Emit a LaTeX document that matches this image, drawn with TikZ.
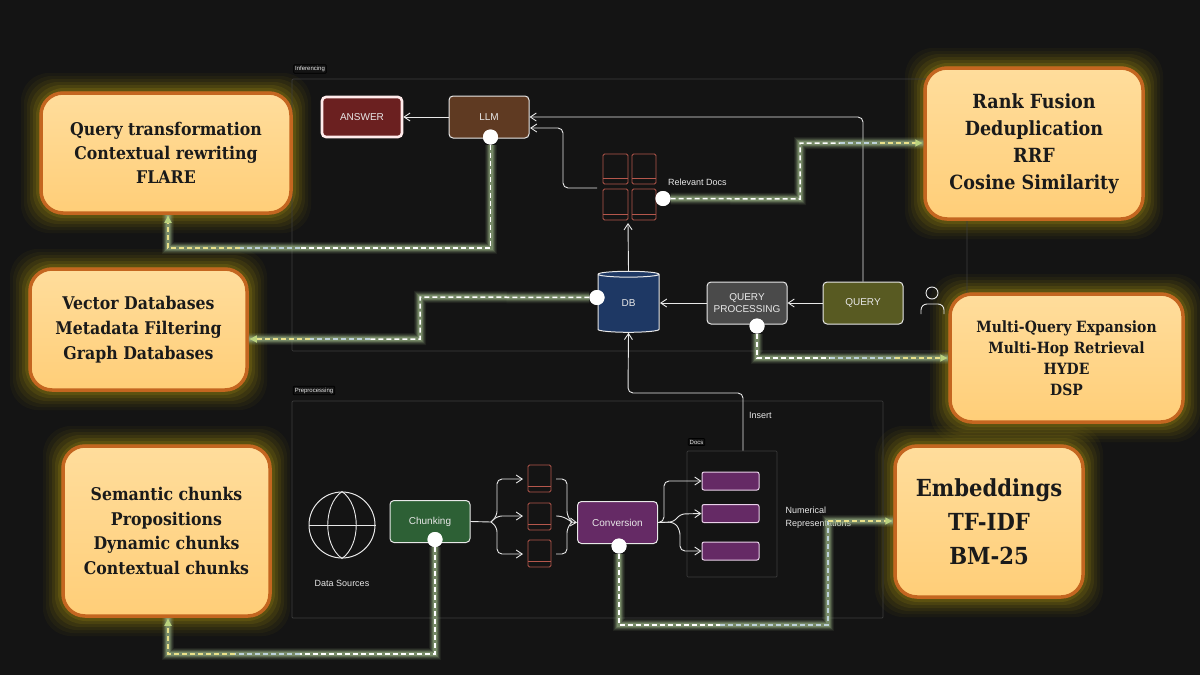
\documentclass[tikz,border=0pt]{standalone}
\usepackage{fontspec}
\setmainfont{Liberation Sans}
\newfontfamily\boxfont{DejaVu Serif Condensed}[BoldFont={DejaVu Serif Condensed Bold}]
\usetikzlibrary{arrows.meta,shapes.geometric,calc}
\definecolor{bg}{HTML}{141414}
\definecolor{framec}{HTML}{3E3E3E}
\definecolor{glowy}{HTML}{B09A10}
\definecolor{glowg}{HTML}{8FA67C}
\definecolor{bookred}{HTML}{B5574C}
\definecolor{edgec}{HTML}{E8E8E8}
\definecolor{dashb}{HTML}{BCD0D8}
\definecolor{dashy}{HTML}{E8E08A}
\definecolor{tipg}{HTML}{BAD27E}
\tikzset{
  flowbox/.style={draw={rgb,255:red,196;green,102;blue,32},line width=3.5pt,rounded corners=22pt,top color={rgb,255:red,255;green,221;blue,156},bottom color={rgb,255:red,255;green,206;blue,120},text={rgb,255:red,26;green,26;blue,26},align=center,font=\boxfont\bfseries,inner sep=0pt},
  stepnode/.style={draw=edgec,line width=1pt,rounded corners=4pt,text=edgec,font=\fontsize{10}{12.5}\selectfont,align=center,minimum width=80pt,minimum height=42pt,inner sep=0pt},
  framebox/.style={draw=framec,line width=.7pt,rounded corners=1pt,minimum height=0pt,inner sep=0pt},
  tagnode/.style={draw=framec!150,line width=.8pt,rounded corners=1pt,text=edgec,font=\fontsize{6}{7}\selectfont,inner sep=1.5pt},
  lab/.style={text=edgec,font=\fontsize{9}{13}\selectfont,align=left,inner sep=0pt},
  conn/.style={draw=edgec,line width=.9pt,rounded corners=5pt,-{Straight Barb[length=6pt,width=8pt,line width=.9pt]}},
  connplain/.style={draw=edgec,line width=.9pt,rounded corners=5pt},
  bookline/.style={draw=bookred,line width=.9pt,rounded corners=1.5pt},
  dotnode/.style={circle,fill=white,minimum size=15pt,inner sep=0pt,draw=none},
  barnode/.style={draw=edgec!90!magenta,fill={rgb,255:red,101;green,42;blue,101},line width=1pt,rounded corners=2pt,minimum width=57pt,minimum height=18pt,inner sep=0pt},
  flowdash/.style={line width=1.5pt,dash pattern=on 5pt off 3pt,line cap=butt},
  flowtip/.style={flowdash,draw=dashy,-{Latex[length=8pt,width=8pt,color=tipg]}},
}
\newcommand{\glowrect}[4]{%
  \foreach \g/\o in {20/.05,17/.06,14/.08,11/.10,8/.13,5/.18,2/.25}{%
    \fill[glowy,opacity=\o,rounded corners=28pt] (#1-\g,#2-\g) rectangle (#3+\g,#4+\g);}}
\newcommand{\flowglow}[1]{%
  \foreach \w/\o in {12/.10,10/.14,8/.22,6/.35,4/.5}{%
    \draw[glowg,line width=\w pt,opacity=\o,line join=miter] #1;}}
\newcommand{\bookicon}[4]{%
  \draw[bookline] (#1,#2) rectangle (#3,#4);
  \draw[bookline,rounded corners=0pt] (#1,#4-6) -- (#3,#4-6);}
\begin{document}
\begin{tikzpicture}[x=1pt,y=-1pt]
\useasboundingbox (0,0) rectangle (1200,675);
\fill[bg] (0,0) rectangle (1200,675);

% glows behind the boxes
\glowrect{41}{93}{291}{213}
\glowrect{30}{269}{247}{390}
\glowrect{63}{446}{270}{616}
\glowrect{925}{68}{1143}{219}
\glowrect{950}{294}{1183}{422}
\glowrect{895}{446}{1083}{597}

% frames
\node[framebox,minimum width=675pt,minimum height=272pt] (fInf) at (629.5,215) {};
\node[framebox,minimum width=591pt,minimum height=217pt] (fPre) at (587.5,509.5) {};
\node[framebox,minimum width=90pt,minimum height=126pt] (fDocs) at (732,514) {};
\node[tagnode] (tInf) at (310,69) {Inferencing};
\node[tagnode] (tPre) at (314,390.5) {Preprocessing};
\node[tagnode] (tDocs) at (696.5,442) {Docs};

% process nodes
\node[stepnode,draw=white!92!red,line width=2.6pt,minimum width=80pt,minimum height=40pt,fill={rgb,255:red,107;green,32;blue,32}] (answer) at (362,117) {ANSWER};
\node[stepnode,fill={rgb,255:red,95;green,58;blue,34}] (llm) at (489,117) {LLM};
\node[stepnode,fill={rgb,255:red,74;green,74;blue,74}] (qp) at (747,303) {QUERY\\PROCESSING};
\node[stepnode,fill={rgb,255:red,88;green,90;blue,34}] (query) at (863,303) {QUERY};
\node[stepnode,fill={rgb,255:red,45;green,96;blue,53}] (chunk) at (430,521.5) {Chunking};
\node[stepnode,fill={rgb,255:red,101;green,42;blue,101}] (conv) at (617.5,522.5) {Conversion};
\node[cylinder,shape border rotate=90,aspect=.42,draw=edgec,line width=1pt,fill={rgb,255:red,30;green,56;blue,100},minimum width=61pt,minimum height=61pt,inner sep=0pt,text=edgec,font=\fontsize{10}{12}\selectfont] (db) at (628.5,303.5) {DB};
\node[barnode] (b1) at (730.5,481) {};
\node[barnode] (b2) at (730.5,513.5) {};
\node[barnode] (b3) at (730.5,551) {};

% books
\bookicon{603}{154}{628}{184}
\bookicon{632}{154}{656}{184}
\bookicon{603}{189}{628}{220}
\bookicon{632}{189}{656}{220}
\bookicon{528}{465}{551}{492}
\bookicon{528}{503}{551}{530}
\bookicon{528}{540}{551}{567}
\coordinate (bkA) at (597,188);
\coordinate (bkB) at (628,223);
\coordinate (b1r) at (556,479);
\coordinate (b2r) at (556,516);
\coordinate (b3r) at (556,554);
\coordinate (b1l) at (523,479);
\coordinate (b2l) at (523,516);
\coordinate (b3l) at (523,554);

% globe
\node[circle,draw=edgec,line width=1pt,minimum size=66pt,inner sep=0pt] (globe) at (342,525) {};
\draw[edgec,line width=.9pt] (globe.north) .. controls (323,505) and (323,545) .. (globe.south) .. controls (361,545) and (361,505) .. (globe.north);
\draw[edgec,line width=.9pt] (globe.west) -- (globe.east);

% person
\node[circle,draw=edgec,line width=.9pt,minimum size=12pt,inner sep=0pt] (head) at (932,293) {};
\draw[edgec,line width=.9pt,rounded corners=6pt] (921,314) -- (921,304) -- (944,304) -- (944,314);

% connectors
\draw[conn] (llm.west) -- (answer.east);
\draw[conn] (query.north) -- (863,117) -- (llm.east);
\draw[conn] (bkA) -- (563,188) -- (563,128) -- (530,128);
\draw[conn] (db.north) -- (bkB);
\draw[conn] (qp.west) -- (660,303);
\draw[conn] (query.west) -- (qp.east);
\draw[conn] (fDocs.north -| 743,0) -- (743,393) -- (628,393) -- (db.south);
\draw[connplain] (chunk.east) -- (491,522);
\draw[conn] (491,522) -- (497,516) -- (497,479) -- (b1l);
\draw[conn] (491,522) -- (497,516) -- (b2l);
\draw[conn] (491,522) -- (497,527) -- (497,554) -- (b3l);
\draw[connplain] (b1r) -- (567,479) -- (567,516) -- (572,522);
\draw[connplain] (b3r) -- (567,554) -- (567,528) -- (572,522);
\draw[connplain] (b2r) -- (562,516) -- (572,522);
\draw[conn] (570,522) -- (conv.west);
\draw[conn] (conv.east) -- (664,522) -- (664,481) -- (b1.west);
\draw[conn] (conv.east) -- (674,522) -- (680,514) -- (b2.west);
\draw[conn] (conv.east) -- (674,522) -- (680,530) -- (680,551) -- (b3.west);

% callout boxes
\node[flowbox,minimum width=250pt,minimum height=120pt,font=\boxfont\bfseries\fontsize{17.5}{24}\selectfont] (qt) at (166,153) {Query transformation\\Contextual rewriting\\FLARE};
\node[flowbox,minimum width=217pt,minimum height=121pt,font=\boxfont\bfseries\fontsize{17.5}{25}\selectfont] (vd) at (138.5,329.5) {Vector Databases\\Metadata Filtering\\Graph Databases};
\node[flowbox,minimum width=207pt,minimum height=170pt,font=\boxfont\bfseries\fontsize{17.5}{24.5}\selectfont] (sc) at (166.5,531) {Semantic chunks\\Propositions\\Dynamic chunks\\Contextual chunks};
\node[flowbox,minimum width=218pt,minimum height=151pt,font=\boxfont\bfseries\fontsize{19.5}{27}\selectfont] (rf) at (1034,143.5) {Rank Fusion\\Deduplication\\RRF\\Cosine Similarity};
\node[flowbox,minimum width=233pt,minimum height=128pt,font=\boxfont\bfseries\fontsize{15.5}{21}\selectfont] (mq) at (1066.5,358) {Multi-Query Expansion\\Multi-Hop Retrieval\\HYDE\\DSP};
\node[flowbox,minimum width=188pt,minimum height=151pt,font=\boxfont\bfseries\fontsize{23.5}{34}\selectfont] (em) at (989,521.5) {Embeddings\\TF-IDF\\BM-25};

% labels
\node[lab,anchor=west] (lRel) at (668,182) {Relevant Docs};
\node[lab,anchor=center] (lDS) at (342,583) {Data Sources};
\node[lab,anchor=west] (lIns) at (749,415) {Insert};
\node[lab,anchor=west] (lNum) at (785.5,518) {Numerical\\Representations};

% anchor dots
\node[dotnode] (dLLM) at (490.5,137) {};
\node[dotnode] (dRel) at (663,198.5) {};
\node[dotnode] (dDB) at (597,297.5) {};
\node[dotnode] (dQP) at (757,326) {};
\node[dotnode] (dChunk) at (435,539.5) {};
\node[dotnode] (dConv) at (619,546) {};

% flow corner and colour-change points
\coordinate (a1) at (490.5,248); \coordinate (a2) at (300,248); \coordinate (a3) at (240,248); \coordinate (a4) at (168,248); \coordinate (a5) at ($(qt.south -| a4)$);
\coordinate (c1) at (800,199); \coordinate (c2) at (800,143); \coordinate (c3) at (840,143); \coordinate (c4) at (880,143); \coordinate (c5) at ($(rf.west |- c4)$);
\coordinate (e1) at (420,297); \coordinate (e2) at (420,339); \coordinate (e3) at (370,339); \coordinate (e4) at (310,339); \coordinate (e5) at ($(vd.east |- e4)$);
\coordinate (g1) at (757,358); \coordinate (g2) at (830,358); \coordinate (g3) at (895,358); \coordinate (g4) at ($(mq.west |- g3)$);
\coordinate (h1) at (435,654); \coordinate (h2) at (300,654); \coordinate (h3) at (235,654); \coordinate (h4) at (168,654); \coordinate (h5) at ($(sc.south -| h4)$);
\coordinate (k1) at (619,625); \coordinate (k2) at (720,625); \coordinate (k3) at (828,625); \coordinate (k4) at (828,521); \coordinate (k5) at ($(em.west |- k4)$);

% flows
\flowglow{(dLLM) -- (a1) -- (a4) -- (a5)}
\flowglow{(dRel) -- (c1) -- (c2) -- (c5)}
\flowglow{(dDB) -- (e1) -- (e2) -- (e5)}
\flowglow{(dQP) -- (g1) -- (g4)}
\flowglow{(dChunk) -- (h1) -- (h4) -- (h5)}
\flowglow{(dConv) -- (k1) -- (k3) -- (k4) -- (k5)}

\draw[flowdash,draw=white] (dLLM) -- (a1) -- (a2);
\draw[flowdash,draw=dashb] (a2) -- (a3);
\draw[flowtip] (a3) -- (a4) -- (a5);

\draw[flowdash,draw=white] (dRel) -- (c1) -- (c2) -- (c3);
\draw[flowdash,draw=dashb] (c3) -- (c4);
\draw[flowtip] (c4) -- (c5);

\draw[flowdash,draw=white] (dDB) -- (e1) -- (e2) -- (e3);
\draw[flowdash,draw=dashb] (e3) -- (e4);
\draw[flowtip] (e4) -- (e5);

\draw[flowdash,draw=white] (dQP) -- (g1) -- (g2);
\draw[flowdash,draw=dashb] (g2) -- (g3);
\draw[flowtip] (g3) -- (g4);

\draw[flowdash,draw=white] (dChunk) -- (h1) -- (h2);
\draw[flowdash,draw=dashb] (h2) -- (h3);
\draw[flowtip] (h3) -- (h4) -- (h5);

\draw[flowdash,draw=white] (dConv) -- (k1) -- (k2);
\draw[flowdash,draw=dashb] (k2) -- (k3) -- (k4);
\draw[flowtip] (k4) -- (k5);

% dots on top
\node[dotnode] at (dLLM) {};
\node[dotnode] at (dRel) {};
\node[dotnode] at (dDB) {};
\node[dotnode] at (dQP) {};
\node[dotnode] at (dChunk) {};
\node[dotnode] at (dConv) {};
\end{tikzpicture}
\end{document}
